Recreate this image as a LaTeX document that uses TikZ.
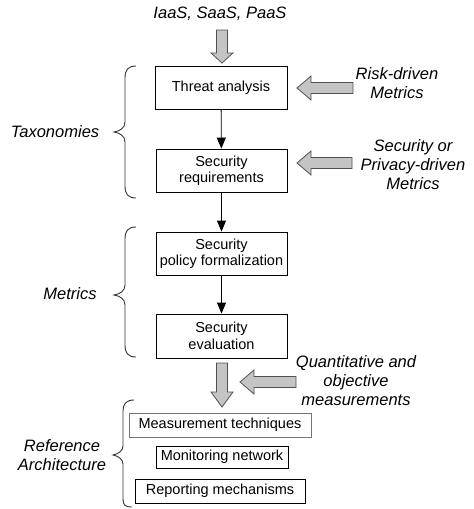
\documentclass[tikz,border=0pt]{standalone}
\usepackage{fontspec}
\setmainfont{Liberation Sans}
\usetikzlibrary{arrows.meta}
\definecolor{arrfill}{RGB}{196,196,196}
\definecolor{arrline}{RGB}{80,80,80}
\begin{document}
\begin{tikzpicture}[x=1pt,y=-1pt,
  box/.style={draw=black,line width=0.8pt,inner sep=0pt,align=center,font=\fontsize{14.5}{16.5}\selectfont},
  lbl/.style={inner sep=0pt,align=center,font=\fontsize{16.5}{19}\selectfont\itshape},
  flow/.style={line width=0.8pt,-{Triangle[length=11pt,width=9pt]}},
  blockarrow/.style={fill=arrfill,draw=arrline,line width=0.8pt,line join=miter},
  bracestyle/.style={draw=black!80,line width=0.9pt}]
\useasboundingbox (0,0) rectangle (474,509);
% input label
\node[lbl] (iaas) at (220,14) {IaaS, SaaS, PaaS};
% main boxes
\node[box,minimum width=132pt,minimum height=43pt] (threat) at (221,87.5) {Threat analysis};
\node[box,minimum width=131pt,minimum height=43pt] (secreq) at (221.5,170.5) {Security\\requirements};
\node[box,minimum width=131pt,minimum height=43pt] (policy) at (221.5,253.5) {Security\\policy formalization};
\node[box,minimum width=131pt,minimum height=44pt] (eval) at (221.5,336) {Security\\evaluation};
\node[box,draw=black!55,minimum width=182pt,minimum height=24pt] (meas) at (220,425) {Measurement techniques};
\node[box,minimum width=132pt,minimum height=22pt] (mon) at (222,457) {Monitoring network};
\node[box,minimum width=170pt,minimum height=24pt] (rep) at (220,491) {Reporting mechanisms};
% side labels
\node[lbl] (risk) at (397,83.5) {Risk-driven\\Metrics};
\node[lbl] (secpriv) at (413,165) {Security or\\Privacy-driven\\Metrics};
\node[lbl] (quant) at (356,381) {Quantitative and\\objective\\measurements};
\node[lbl] (tax) at (55,132) {Taxonomies};
\node[lbl] (met) at (70,294) {Metrics};
\node[lbl] (refarch) at (62,455) {Reference\\Architecture};
% flow arrows
\draw[flow] (threat) -- (secreq);
\draw[flow] (secreq) -- (policy);
\draw[flow] (policy) -- (eval);
% gray block arrows (down)
\draw[blockarrow] (216.5,30) -- (227.5,30) -- (227.5,53) -- (233,53) -- (222,63) -- (211,53) -- (216.5,53) -- cycle;
\draw[blockarrow] (216.5,363) -- (227.5,363) -- (227.5,392) -- (233,392) -- (222,407) -- (211,392) -- (216.5,392) -- cycle;
% gray block arrows (left)
\draw[blockarrow] (353,82.5) -- (311,82.5) -- (311,76) -- (297,88) -- (311,100) -- (311,93.5) -- (353,93.5) -- cycle;
\draw[blockarrow] (352,157.5) -- (311,157.5) -- (311,151) -- (297,163) -- (311,175) -- (311,168.5) -- (352,168.5) -- cycle;
\draw[blockarrow] (296,376.5) -- (254,376.5) -- (254,370) -- (240,382) -- (254,394) -- (254,387.5) -- (296,387.5) -- cycle;
% braces
\draw[bracestyle] (136,66) .. controls (128,66) and (125,70) .. (125,78) -- (125,122) .. controls (125,128) and (120,131) .. (114,132) .. controls (120,133) and (125,136) .. (125,142) -- (125,186) .. controls (125,194) and (128,198) .. (136,198);
\draw[bracestyle] (136,227) .. controls (128,227) and (125,231) .. (125,239) -- (125,285) .. controls (125,291) and (120,294) .. (114,295) .. controls (120,296) and (125,299) .. (125,305) -- (125,345) .. controls (125,353) and (128,357) .. (136,357);
\draw[bracestyle] (134,400) .. controls (126,400) and (123,404) .. (123,411) -- (123,446) .. controls (123,451) and (118,454) .. (113,455) .. controls (118,456) and (123,459) .. (123,464) -- (123,499) .. controls (123,505) and (125,507) .. (132,507);
\end{tikzpicture}
\end{document}
